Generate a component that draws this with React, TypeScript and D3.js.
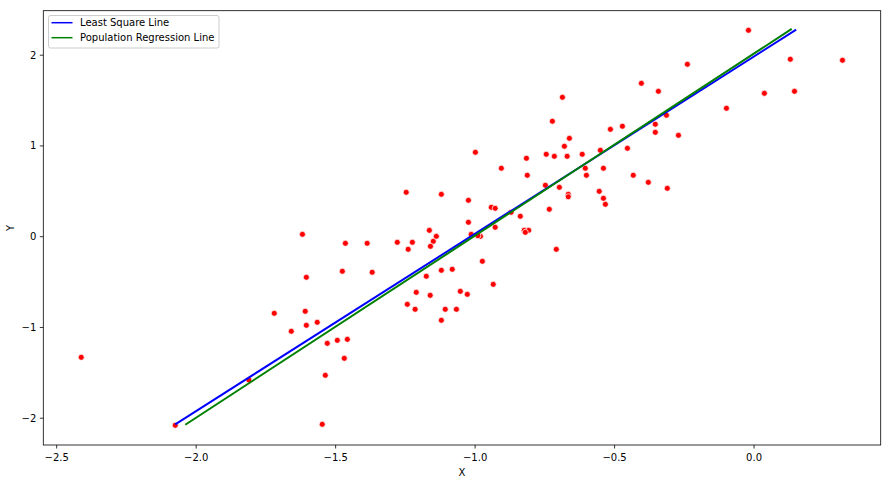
import * as d3 from 'd3';

// scatter points
const xs = [
  -1.619, -1.465, -1.476, -1.605, -1.720, -1.609, -1.605, -1.566, -1.659, -1.530,
  -1.494, -1.458, -1.469, -1.537, -2.412, -1.811, -2.075, -1.548, -1.247, -1.121,
  -1.024, -0.813, -0.906, -0.601, -0.748, -0.698, -0.666, -0.666, -0.555, -0.942,
  -0.928, -0.734, -0.838, -0.871, -1.024, -0.928, -0.824, -0.808, -0.820, -1.014,
  -0.981, -0.990, -1.164, -1.139, -1.150, -1.160, -1.225, -1.279, -1.240, -1.387,
  -1.369, -0.974, -0.709, -1.121, -1.082, -1.175, -0.935, -1.211, -1.161, -1.053,
  -1.028, -1.243, -1.215, -1.107, -1.067, -1.121, -0.687, -0.723, -0.515, -0.472,
  -0.662, -0.680, -0.999, -0.816, -0.745, -0.716, -0.670, -0.616, -0.551, -0.454,
  -0.605, -0.540, -0.433, -0.020, 0.130, 0.317, -0.239, -0.404, -0.343, 0.037,
  0.145, -0.099, -0.314, -0.354, -0.354, -0.271, -0.379, -0.311, -0.540, -0.533,
];
const ys = [
  0.026, -0.073, -0.381, -0.447, -0.844, -0.822, -0.976, -0.943, -1.042, -1.175,
  -1.142, -1.131, -1.340, -1.527, -1.329, -1.579, -2.078, -2.067, 0.489, 0.467,
  0.401, 0.677, 0.754, 0.677, 0.566, 0.544, 0.467, 0.440, 0.500, 0.324,
  0.313, 0.302, 0.225, 0.269, 0.159, 0.104, 0.070, 0.070, 0.048, 0.026,
  0.004, 0.011, 0.070, 0.004, -0.051, -0.106, -0.062, -0.062, -0.139, -0.073,
  -0.392, -0.271, -0.139, -0.370, -0.359, -0.436, -0.525, -0.613, -0.646, -0.602,
  -0.635, -0.745, -0.800, -0.800, -0.800, -0.921, 1.536, 1.272, 1.183, 1.217,
  1.084, 0.996, 0.930, 0.864, 0.908, 0.886, 0.886, 0.908, 0.952, 0.974,
  0.754, 0.754, 0.677, 2.274, 1.955, 1.944, 1.900, 1.690, 1.602, 1.580,
  1.602, 1.415, 1.338, 1.239, 1.150, 1.117, 0.599, 0.533, 0.423, 0.357,
];

// fitted lines (end points)
const lsqX = [-2.075, 0.151];
const lsqY = [-2.067, 2.281];
const popX = [-2.039, 0.135];
const popY = [-2.072, 2.289];

const xTicks = [-2.5, -2.0, -1.5, -1.0, -0.5, 0.0];
const yTicks = [-2, -1, 0, 1, 2];

const W = 890;
const H = 483;
const left = 43.3;
const right = 880.7;
const top = 10.7;
const bottom = 445;
const font = '"DejaVu Sans", sans-serif';

const fmt = (v: number, d: number) => v.toFixed(d).replace('-', '\u2212');

export default function App() {
  const x = d3.scaleLinear().domain([-2.548, 0.454]).range([left, right]);
  const y = d3.scaleLinear().domain([-2.295, 2.49]).range([bottom, top]);

  const line = d3.line<[number, number]>().x(d => x(d[0])).y(d => y(d[1]));
  const lsq = line(lsqX.map((v, i) => [v, lsqY[i]] as [number, number])) || '';
  const pop = line(popX.map((v, i) => [v, popY[i]] as [number, number])) || '';

  return (
    <div style={{ position: 'absolute', left: 0, top: 0 }}>
      <svg width={W} height={H} style={{ display: 'block', background: '#fff' }} fontFamily={font}>
        <defs>
          <clipPath id="plot">
            <rect x={left} y={top} width={right - left} height={bottom - top} />
          </clipPath>
        </defs>

        {/* points */}
        <g clipPath="url(#plot)">
          {xs.map((v, i) => (
            <circle key={i} cx={x(v)} cy={y(ys[i])} r={3} fill="#ff0000" stroke="#fff" strokeWidth={0.75} />
          ))}
          <path d={lsq} fill="none" stroke="#0000ff" strokeWidth={2} />
          <path d={pop} fill="none" stroke="#008000" strokeWidth={2} />
        </g>

        {/* frame */}
        <rect x={left} y={top} width={right - left} height={bottom - top} fill="none" stroke="#000" strokeWidth={0.8} />

        {/* x axis */}
        {xTicks.map(t => (
          <g key={t} transform={`translate(${x(t)},${bottom})`}>
            <line y2={3.5} stroke="#000" strokeWidth={0.8} />
            <text y={15.5} textAnchor="middle" fontSize={10} fill="#000">{fmt(t, 1)}</text>
          </g>
        ))}
        <text x={(left + right) / 2} y={475.5} textAnchor="middle" fontSize={10}>X</text>

        {/* y axis */}
        {yTicks.map(t => (
          <g key={t} transform={`translate(${left},${y(t)})`}>
            <line x2={-3.5} stroke="#000" strokeWidth={0.8} />
            <text x={-7} dy="0.35em" textAnchor="end" fontSize={10} fill="#000">{fmt(t, 0)}</text>
          </g>
        ))}
        <text transform={`translate(13.5,${(top + bottom) / 2}) rotate(-90)`} textAnchor="middle" fontSize={10}>Y</text>

        {/* legend */}
        <g>
          <rect x={48.5} y={15.5} width={170.5} height={32.5} rx={2} fill="#fff" fillOpacity={0.8} stroke="#cccccc" strokeWidth={1} />
          <line x1={51.5} x2={72.5} y1={22.7} y2={22.7} stroke="#0000ff" strokeWidth={1.5} />
          <text x={80} y={26.4} fontSize={10}>Least Square Line</text>
          <line x1={51.5} x2={72.5} y1={37.7} y2={37.7} stroke="#008000" strokeWidth={1.5} />
          <text x={80} y={41.4} fontSize={10}>Population Regression Line</text>
        </g>
      </svg>
    </div>
  );
}
